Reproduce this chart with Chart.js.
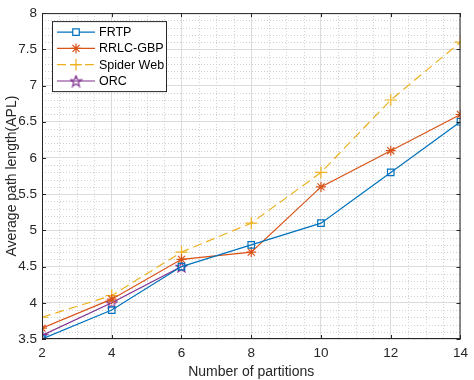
<!DOCTYPE html>
<html lang="en">
<head>
<meta charset="utf-8">
<title>Average path length vs partitions</title>
<script src="https://cdn.jsdelivr.net/npm/chart.js@4/dist/chart.umd.min.js"></script>
<style>
  html, body { margin: 0; padding: 0; background: #fff; }
  #wrap { width: 474px; height: 380px; position: relative; }
</style>
</head>
<body>
<div id="wrap"><canvas id="apl"></canvas></div>
<script>
// data
const partitions = [2, 4, 6, 8, 10, 12, 14];
const frtp      = [3.5, 3.9, 4.5, 4.8, 5.1, 5.8, 6.5];
const rrlcGbp   = [3.65, 4.05, 4.6, 4.7, 5.6, 6.1, 6.6];
const spiderWeb = [3.8, 4.1, 4.7, 5.1, 5.8, 6.8, 7.6];
const orc       = [3.55, 4.0, 4.5];
const seriesNames = ['FRTP', 'RRLC-GBP', 'Spider Web', 'ORC'];

const FONT = '"Liberation Sans", Arial, sans-serif';
const AXIS = '#262626';

// pentagram marker for ORC
function starImage(color) {
  const c = document.createElement('canvas');
  c.width = 13; c.height = 13;
  const g = c.getContext('2d');
  g.strokeStyle = color; g.lineWidth = 1.2;
  g.beginPath();
  for (let i = 0; i < 10; i++) {
    const r = i % 2 === 0 ? 5.8 : 2.4;
    const a = -Math.PI / 2 + i * Math.PI / 5;
    const px = 6.5 + r * Math.cos(a), py = 7 + r * Math.sin(a);
    if (i === 0) g.moveTo(px, py); else g.lineTo(px, py);
  }
  g.closePath(); g.stroke();
  return c;
}

function pts(ys) { return ys.map((y, i) => ({ x: partitions[i], y: y })); }

const datasets = [
  { label: seriesNames[0], data: pts(frtp), borderColor: '#0072BD', pointStyle: 'rect', pointRadius: 4.6 },
  { label: seriesNames[1], data: pts(rrlcGbp), borderColor: '#D95319', pointStyle: 'star', pointRadius: 5 },
  { label: seriesNames[2], data: pts(spiderWeb), borderColor: '#EDB120', pointStyle: 'cross', pointRadius: 6, borderDash: [9, 5] },
  { label: seriesNames[3], data: pts(orc), borderColor: '#7E2F8E', pointStyle: starImage('#7E2F8E'), pointRadius: 6 }
].map(d => Object.assign({
  borderWidth: 1.2, backgroundColor: 'transparent', pointBackgroundColor: 'transparent',
  pointBorderColor: d.borderColor, pointBorderWidth: 1.2, fill: false, tension: 0
}, d));

// minor dotted grid, box with inward ticks, legend inside the axes
const matlabAxes = {
  id: 'matlabAxes',
  beforeDatasetsDraw(chart) {
    const { ctx, chartArea: a, scales: { x, y } } = chart;
    ctx.save();
    ctx.strokeStyle = '#d0d0d0';
    ctx.lineWidth = 1;
    ctx.setLineDash([1, 2]);
    for (let v = 2; v <= 14.001; v += 0.5) {
      if (Math.abs(v / 2 - Math.round(v / 2)) < 1e-6) continue;
      const px = Math.round(x.getPixelForValue(v)) + 0.5;
      ctx.beginPath(); ctx.moveTo(px, a.top); ctx.lineTo(px, a.bottom); ctx.stroke();
    }
    for (let k = 35; k <= 80; k++) {
      if (k % 5 === 0) continue;
      const py = Math.round(y.getPixelForValue(k / 10)) + 0.5;
      ctx.beginPath(); ctx.moveTo(a.left, py); ctx.lineTo(a.right, py); ctx.stroke();
    }
    ctx.restore();
  },
  afterDraw(chart) {
    const { ctx, chartArea: a, scales: { x, y } } = chart;
    ctx.save();
    ctx.strokeStyle = AXIS;
    ctx.lineWidth = 1;
    ctx.setLineDash([]);
    ctx.strokeRect(a.left + 0.5, a.top + 0.5, a.right - a.left - 1, a.bottom - a.top - 1);
    const tl = 4;
    ctx.beginPath();
    partitions.forEach(v => {
      const px = Math.round(x.getPixelForValue(v)) + 0.5;
      ctx.moveTo(px, a.bottom); ctx.lineTo(px, a.bottom - tl);
      ctx.moveTo(px, a.top); ctx.lineTo(px, a.top + tl);
    });
    for (let k = 7; k <= 16; k++) {
      const py = Math.round(y.getPixelForValue(k / 2)) + 0.5;
      ctx.moveTo(a.left, py); ctx.lineTo(a.left + tl, py);
      ctx.moveTo(a.right, py); ctx.lineTo(a.right - tl, py);
    }
    ctx.stroke();

    // legend
    const lx = a.left + 10, ly = a.top + 8, lw = 114, lh = 70;
    ctx.fillStyle = '#fff';
    ctx.fillRect(lx, ly, lw, lh);
    ctx.strokeStyle = AXIS;
    ctx.strokeRect(lx + 0.5, ly + 0.5, lw, lh);
    ctx.font = '12.5px ' + FONT;
    ctx.textBaseline = 'middle';
    chart.data.datasets.forEach((ds, i) => {
      const cy = ly + 11 + i * 16.3;
      ctx.strokeStyle = ds.borderColor;
      ctx.lineWidth = ds.borderWidth;
      ctx.setLineDash(ds.borderDash || []);
      ctx.beginPath(); ctx.moveTo(lx + 5, cy); ctx.lineTo(lx + 43, cy); ctx.stroke();
      ctx.setLineDash([]);
      Chart.helpers.drawPoint(ctx, {
        pointStyle: ds.pointStyle, radius: ds.pointRadius, borderWidth: ds.pointBorderWidth, rotation: 0
      }, lx + 24, cy);
      ctx.fillStyle = '#000';
      ctx.fillText(ds.label, lx + 47, cy + 0.5);
    });
    ctx.restore();
  }
};

new Chart(document.getElementById('apl'), {
  type: 'line',
  data: { datasets: datasets },
  plugins: [matlabAxes],
  options: {
    responsive: true,
    maintainAspectRatio: false,
    animation: false,
    layout: { padding: { top: 5, right: 6, left: 0, bottom: 0 } },
    plugins: { legend: { display: false }, tooltip: { enabled: false } },
    scales: {
      x: {
        type: 'linear', min: 2, max: 14,
        afterFit: s => { s.height = 41; },
        ticks: { stepSize: 2, color: AXIS, font: { family: FONT, size: 13.5 }, padding: 6 },
        grid: { color: '#dcdcdc', drawTicks: false },
        border: { display: false },
        title: { display: true, text: 'Number of partitions', color: AXIS, font: { family: FONT, size: 14 }, padding: { top: 0, bottom: -1 } }
      },
      y: {
        min: 3.5, max: 8,
        afterFit: s => { s.width = 42; },
        ticks: { stepSize: 0.5, color: AXIS, font: { family: FONT, size: 13.5 }, padding: 5,
                 callback: v => String(Math.round(v * 10) / 10) },
        grid: { color: '#dcdcdc', drawTicks: false },
        border: { display: false },
        title: { display: true, text: 'Average path length(APL)', color: AXIS, font: { family: FONT, size: 14 }, padding: { bottom: 0 } }
      }
    }
  }
});
</script>
</body>
</html>
